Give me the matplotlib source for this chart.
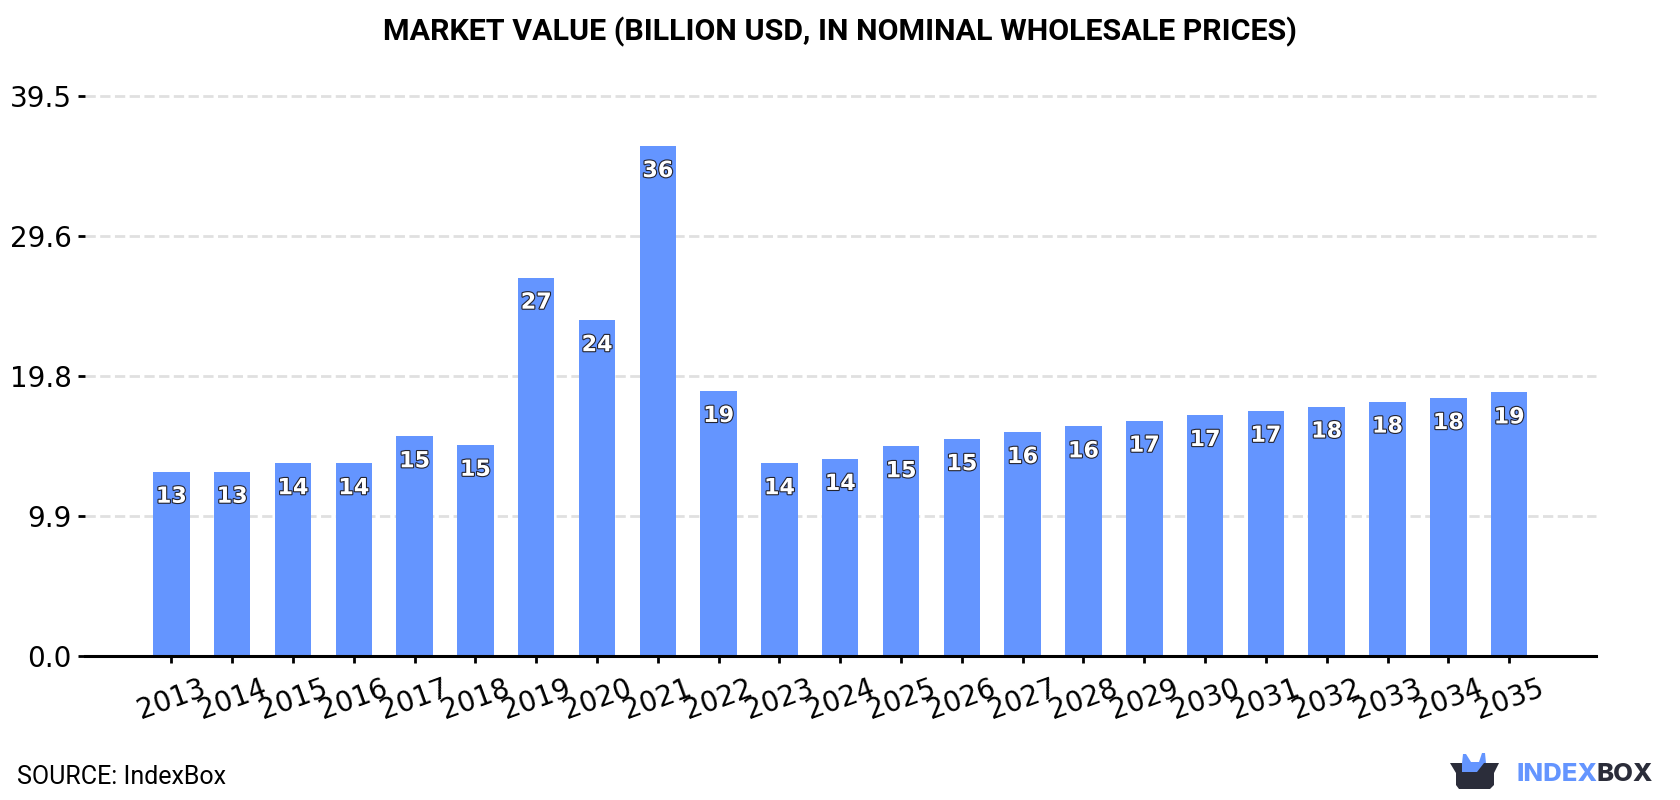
import matplotlib
matplotlib.use("Agg")
import matplotlib.pyplot as plt
import matplotlib.patheffects as pe
from matplotlib.patches import Polygon

years = list(range(2013, 2036))
values = [13.0, 13.0, 13.6, 13.6, 15.5, 14.9, 26.7, 23.7, 36.0, 18.7, 13.6, 13.9,
          14.8, 15.3, 15.8, 16.2, 16.6, 17.0, 17.3, 17.6, 17.95, 18.2, 18.6]
bar_labels = [13, 13, 14, 14, 15, 15, 27, 24, 36, 19, 14, 14,
              15, 15, 16, 16, 17, 17, 17, 18, 18, 18, 19]
y_ticks = [0.0, 9.875, 19.75, 29.625, 39.5]
y_tick_labels = ["0.0", "9.9", "19.8", "29.6", "39.5"]

BLUE = "#6495ff"
DARK = "#2b2d3a"

W, H = 1680, 800
fig = plt.figure(figsize=(W / 100, H / 100), dpi=100, facecolor="white")
ax = fig.add_axes([85 / W, 1 - 655.8 / H, (1595.5 - 85) / W, (655.8 - 96.4) / H])

ax.bar(years, values, width=0.6, color=BLUE, zorder=3)
ax.set_xlim(2013 - 1.42, 2035 + 1.42)
ax.set_ylim(0, 39.5)

ax.set_yticks(y_ticks)
ax.set_yticklabels(y_tick_labels)
ax.set_xticks(years)
ax.set_xticklabels([str(y) for y in years], rotation=20)
ax.tick_params(axis="both", labelsize=20, length=5, width=2, color="black")
ax.tick_params(axis="y", pad=4.5)
ax.tick_params(axis="x", pad=8)
ax.yaxis.grid(True, color="#e0e0e0", linewidth=2, linestyle="--", zorder=0)
ax.set_axisbelow(True)

for side in ("top", "right", "left"):
    ax.spines[side].set_visible(False)
ax.spines["bottom"].set_linewidth(2.2)
ax.spines["bottom"].set_zorder(5)
for gl in ax.get_ygridlines():
    gl.set_clip_on(False)

# Value labels sit just inside the top of each bar
for year, val, lab in zip(years, values, bar_labels):
    ax.annotate(str(lab), (year, val), xytext=(0, -18), textcoords="offset points",
                ha="center", va="center", fontsize=16, fontweight="bold",
                color="white", zorder=6,
                path_effects=[pe.withStroke(linewidth=1.6, foreground="#23232e")])

fig.text(840 / W, 1 - 31.5 / H, "MARKET VALUE (BILLION USD, IN NOMINAL WHOLESALE PRICES)",
         ha="center", va="center", family="Roboto", fontweight="bold",
         fontsize=21.9, color="black")
fig.text(17 / W, 1 - 777.5 / H, "SOURCE: IndexBox", ha="left", va="center",
         family="Roboto", fontsize=18, color="black")

# Brand mark in the lower right corner, laid out in pixel coordinates
def px(points):
    return [(x / W, 1 - y / H) for x, y in points]

fig.add_artist(Polygon(px([(1461, 773), (1463, 754), (1466, 754), (1471, 762), (1479, 762),
                           (1482, 753), (1485, 753), (1487, 773)]),
                       closed=True, facecolor=BLUE, edgecolor="none",
                       transform=fig.transFigure))
fig.add_artist(Polygon(px([(1450, 763), (1462, 763), (1462, 772), (1477, 772), (1484, 763),
                           (1499, 763), (1494, 773), (1494, 785), (1490, 789), (1459, 789),
                           (1456, 785), (1456, 773)]),
                       closed=True, facecolor=DARK, edgecolor="none",
                       transform=fig.transFigure))
fig.text(1517 / W, 1 - 774.5 / H, "INDEX", ha="left", va="center", family="Inter",
         fontweight="heavy", fontsize=18.5, color=BLUE)
fig.text(1597 / W, 1 - 774.5 / H, "BOX", ha="left", va="center", family="Inter",
         fontweight="heavy", fontsize=18.5, color=DARK)

fig.savefig("out.png", dpi=100, facecolor="white")
